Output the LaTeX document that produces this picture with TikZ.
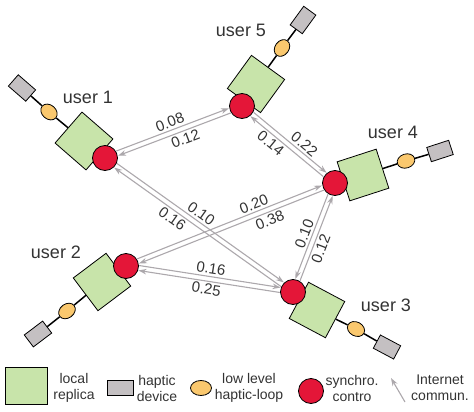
\documentclass[tikz,border=0pt]{standalone}
\usepackage{fontspec}
\setmainfont{Liberation Sans}
\usepackage{xcolor}
\usetikzlibrary{shapes.geometric,arrows.meta,calc}
\definecolor{replicagreen}{RGB}{200,228,170}
\definecolor{devicegray}{RGB}{196,192,194}
\definecolor{loopyellow}{RGB}{250,200,110}
\definecolor{syncred}{RGB}{228,22,56}
\definecolor{netgray}{RGB}{172,168,172}

\begin{document}
\begin{tikzpicture}[x=1pt,y=-1pt,
        replica node/.style={draw,line width=0.8pt,fill=replicagreen,minimum size=41pt,inner sep=0pt},
        device node/.style={draw,line width=0.8pt,fill=devicegray,minimum width=23pt,minimum height=15pt,inner sep=0pt},
        loop node/.style={ellipse,draw,line width=0.8pt,fill=loopyellow,minimum width=18pt,minimum height=14pt,inner sep=0pt},
        sync node/.style={circle,draw,line width=0.8pt,fill=syncred,minimum size=25pt,inner sep=0pt},
        chain edge/.style={draw=black,line width=1.5pt},
        net edge/.style={draw=netgray,line width=1.1pt,-{Stealth[length=8pt,width=5.5pt]},shorten <=13pt,shorten >=13pt},
        user label/.style={font=\fontsize{18}{20}\selectfont,text=black!80},
        delay label/.style={font=\fontsize{15}{16}\selectfont,text=black!80,sloped,inner sep=2pt},
        legend label/.style={font=\fontsize{14}{16}\selectfont,text=black!80,align=center}
      ]
      \useasboundingbox (0,0) rectangle (474,412);

      % user 1
      \node[device node,rotate=139] (g1) at (22,88) {};
      \node[loop node,rotate=139] (y1) at (49,112) {};
      \node[replica node,rotate=139] (s1) at (84,141) {};
      \node[sync node] (r1) at (105,158) {};
      \node[user label] (u1) at (88,97) {user 1};
      % user 5
      \node[device node,rotate=54] (g5) at (303,20) {};
      \node[loop node,rotate=54] (y5) at (282,48) {};
      \node[replica node,rotate=54] (s5) at (256,84) {};
      \node[sync node] (r5) at (242,106) {};
      \node[user label] (u5) at (241,30) {user 5};
      % user 4
      \node[device node,rotate=18] (g4) at (440,151) {};
      \node[loop node,rotate=18] (y4) at (406,161) {};
      \node[replica node,rotate=18] (s4) at (363,175) {};
      \node[sync node] (r4) at (335,183) {};
      \node[user label] (u4) at (393,132) {user 4};
      % user 2
      \node[device node,rotate=217] (g2) at (38,334) {};
      \node[loop node,rotate=217] (y2) at (67,311) {};
      \node[replica node,rotate=217] (s2) at (102,282) {};
      \node[sync node] (r2) at (126,266) {};
      \node[user label] (u2) at (56,252) {user 2};
      % user 3
      \node[device node,rotate=-28] (g3) at (387,347) {};
      \node[loop node,rotate=-28] (y3) at (356,329) {};
      \node[replica node,rotate=-28] (s3) at (317,310) {};
      \node[sync node] (r3) at (293,292) {};
      \node[user label] (u3) at (386,305) {user 3};

      % haptic chains
      \path[chain edge]
        (g1) edge (y1) (y1) edge (s1)
        (g5) edge (y5) (y5) edge (s5)
        (g4) edge (y4) (y4) edge (s4)
        (g2) edge (y2) (y2) edge (s2)
        (g3) edge (y3) (y3) edge (s3);

      % internet links, one line per direction
      \draw[net edge] ($(r1)!2.5pt!90:(r5)$) -- node[delay label,above,pos=.5] {0.08} ($(r5)!2.5pt!-90:(r1)$);
      \draw[net edge] ($(r5)!2.5pt!90:(r1)$) -- node[delay label,below,pos=.44] {0.12} ($(r1)!2.5pt!-90:(r5)$);
      \draw[net edge] ($(r5)!2.5pt!90:(r4)$) -- node[delay label,above,pos=.6] {0.22} ($(r4)!2.5pt!-90:(r5)$);
      \draw[net edge] ($(r4)!2.5pt!90:(r5)$) -- node[delay label,below,pos=.62] {0.14} ($(r5)!2.5pt!-90:(r4)$);
      \draw[net edge] ($(r1)!2.5pt!90:(r3)$) -- node[delay label,above,pos=.48] {0.10} ($(r3)!2.5pt!-90:(r1)$);
      \draw[net edge] ($(r3)!2.5pt!90:(r1)$) -- node[delay label,below,pos=.61] {0.16} ($(r1)!2.5pt!-90:(r3)$);
      \draw[net edge] ($(r2)!2.5pt!90:(r4)$) -- node[delay label,above,pos=.63] {0.20} ($(r4)!2.5pt!-90:(r2)$);
      \draw[net edge] ($(r4)!2.5pt!90:(r2)$) -- node[delay label,below,pos=.33] {0.38} ($(r2)!2.5pt!-90:(r4)$);
      \draw[net edge] ($(r2)!2.5pt!90:(r3)$) -- node[delay label,above,pos=.5] {0.16} ($(r3)!2.5pt!-90:(r2)$);
      \draw[net edge] ($(r3)!2.5pt!90:(r2)$) -- node[delay label,below,pos=.51] {0.25} ($(r2)!2.5pt!-90:(r3)$);
      \draw[net edge] ($(r4)!2.5pt!-90:(r3)$) -- node[delay label,above,pos=.5] {0.10} ($(r3)!2.5pt!90:(r4)$);
      \draw[net edge] ($(r3)!2.5pt!-90:(r4)$) -- node[delay label,below,pos=.43] {0.12} ($(r4)!2.5pt!90:(r3)$);

      % legend
      \node[draw,line width=0.8pt,fill=replicagreen,minimum width=42pt,minimum height=37pt,inner sep=0pt] (lr) at (26,386) {};
      \node[legend label] (lrt) at (74,388) {local\\replica};
      \node[device node,minimum width=26pt] (ld) at (120,388) {};
      \node[legend label] (ldt) at (157,388) {haptic\\device};
      \node[loop node,minimum width=21pt,minimum height=15pt] (ll) at (201,388) {};
      \node[legend label] (llt) at (249,388) {low level\\haptic-loop};
      \node[sync node] (ls) at (311,391) {};
      \node[legend label] (lst) at (352,388) {synchro.\\contro};
      \coordinate (la1) at (405,402);
      \coordinate (la2) at (391,378);
      \draw[net edge,shorten <=0pt,shorten >=0pt] (la1) -- (la2);
      \node[legend label] (lat) at (440,388) {Internet\\commun.};
    \end{tikzpicture}
\end{document}
